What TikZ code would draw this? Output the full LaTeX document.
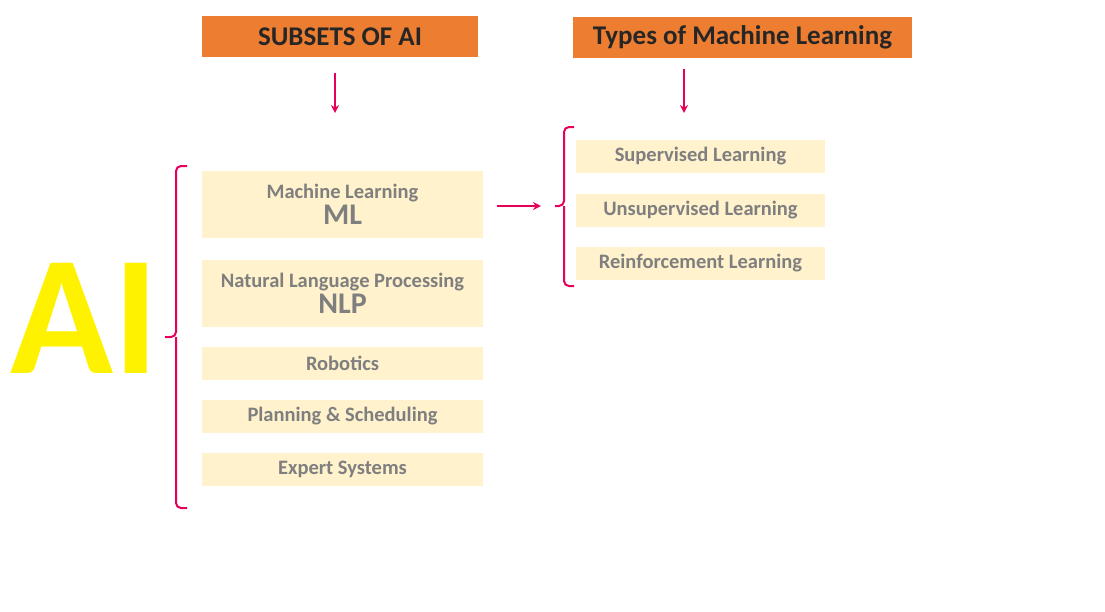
\documentclass[tikz,border=0pt]{standalone}
\usepackage{fontspec}
\setmainfont{Carlito}
\usetikzlibrary{arrows.meta}
\definecolor{headorange}{HTML}{ED7D31}
\definecolor{boxcream}{HTML}{FFF2CC}
\definecolor{textgray}{HTML}{7F7F7F}
\definecolor{linkpink}{HTML}{E6005C}
\tikzset{
  header/.style={fill=headorange, text=black!85, font=\bfseries\fontsize{27}{30}\selectfont, inner sep=0pt},
  subset/.style={fill=boxcream, text=textgray, font=\bfseries\fontsize{20.5}{24}\selectfont, inner sep=0pt, align=center},
  link/.style={linkpink, line width=2pt, -{Stealth[length=8pt,width=8pt]}},
  brace/.style={linkpink, line width=2pt, rounded corners=5pt}
}
\begin{document}
\begin{tikzpicture}[x=1pt,y=-1pt]
    \useasboundingbox (0,0) rectangle (1105,611);

    % Headers
    \node[header, minimum width=276pt, minimum height=41pt] (subsets) at (340,36.5) {SUBSETS OF AI};
    \node[header, minimum width=339pt, minimum height=41pt] (types) at (742.5,37.5) {Types of Machine Learning};

    % Down arrows
    \coordinate (s1) at (335,73); \coordinate (s2) at (335,113);
    \coordinate (t1) at (684,69); \coordinate (t2) at (684,113);
    \draw[link] (s1) -- (s2);
    \draw[link] (t1) -- (t2);

    % Subsets of AI
    \node[subset, minimum width=281pt, minimum height=67pt] (ml) at (342.5,204.5)
      {Machine Learning\\[2pt]{\fontsize{30}{30}\selectfont ML}};
    \node[subset, minimum width=281pt, minimum height=67pt] (nlp) at (342.5,293.5)
      {Natural Language Processing\\[2pt]{\fontsize{30}{30}\selectfont NLP}};
    \node[subset, minimum width=281pt, minimum height=33pt] (rob) at (342.5,363.5) {Robotics};
    \node[subset, minimum width=281pt, minimum height=33pt] (plan) at (342.5,416.5) {Planning \& Scheduling};
    \node[subset, minimum width=281pt, minimum height=33pt] (exp) at (342.5,469.5) {Expert Systems};

    % Types of machine learning
    \node[subset, minimum width=249pt, minimum height=33pt] (sup) at (700.5,156.5) {Supervised Learning};
    \node[subset, minimum width=249pt, minimum height=33pt] (uns) at (700.5,210.5) {Unsupervised Learning};
    \node[subset, minimum width=249pt, minimum height=33pt] (rein) at (700.5,263.5) {Reinforcement Learning};

    % Big AI
    \node[text=yellow, font=\bfseries\fontsize{170}{170}\selectfont, inner sep=0pt] (ai) at (85,318) {AI};

    % Braces
    \draw[brace] (187,166) -- (176,166) -- (176,337) -- (165,337) (176,337) -- (176,508) -- (187,508);
    \draw[brace] (574,127) -- (564,127) -- (564,206) -- (555,206) (564,206) -- (564,286) -- (574,286);

    % ML to types
    \coordinate (m1) at (497,206); \coordinate (m2) at (541,206);
    \draw[link] (m1) -- (m2);
\end{tikzpicture}
\end{document}
